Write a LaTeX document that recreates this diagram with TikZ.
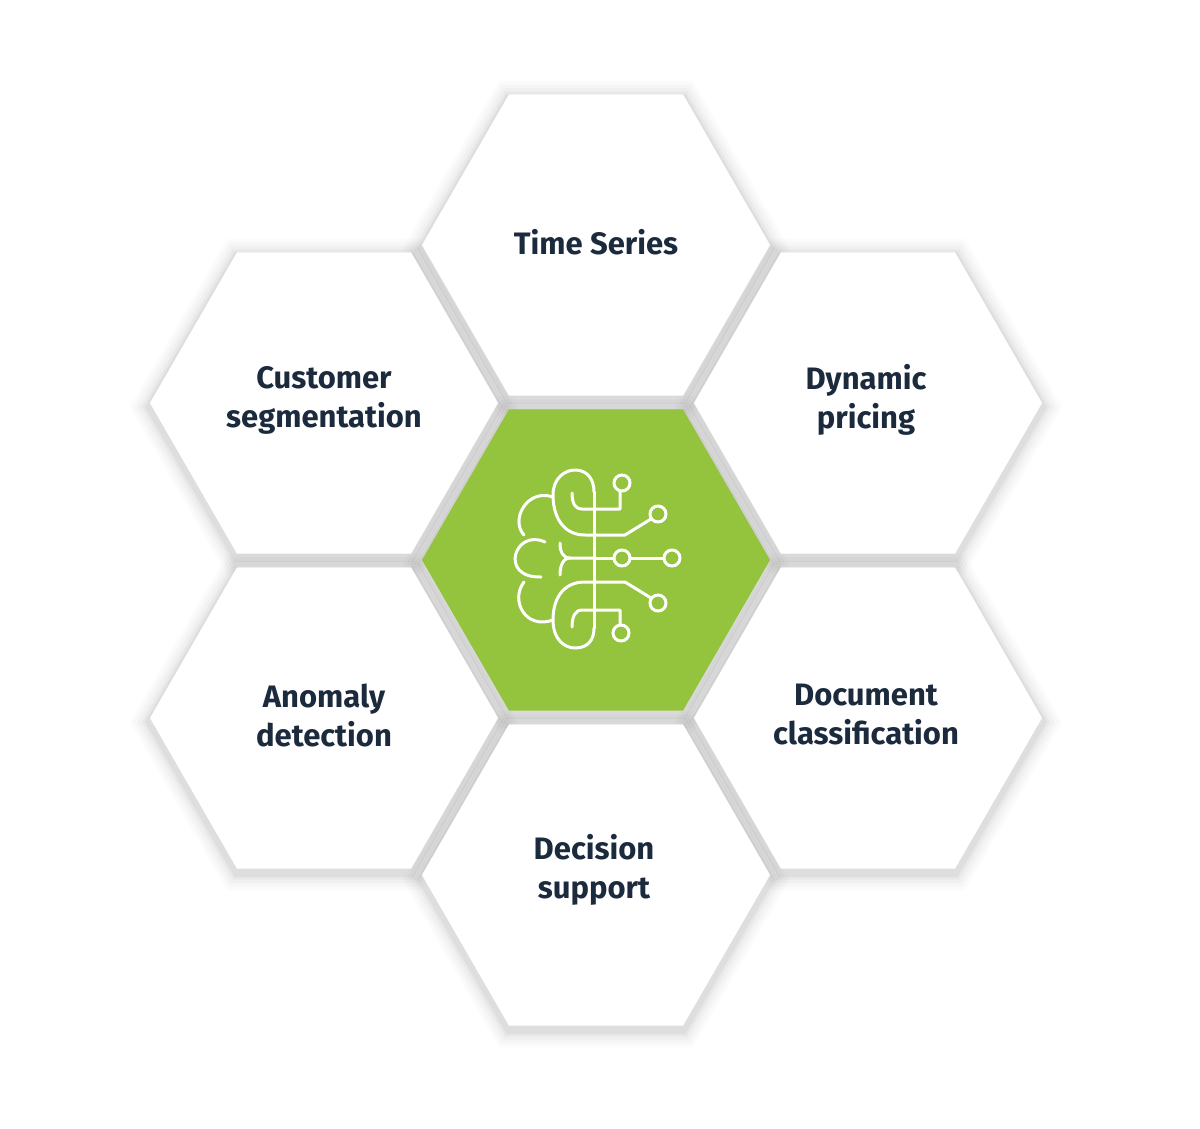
\documentclass[tikz,border=0pt]{standalone}
\usepackage{fontspec}
\setmainfont{Fira Sans}
\definecolor{txt}{HTML}{1C2A3E}
\definecolor{grn}{HTML}{94C33D}
\begin{document}
\begin{tikzpicture}[x=1pt,y=-1pt,
  lbl/.style={font=\fontsize{31}{39}\selectfont\bfseries, text=txt, align=center},
  ic/.style={draw=white, line width=3pt, line cap=round, line join=round},
  dot/.style={draw=white, line width=3pt, fill=grn}]
\useasboundingbox (0,0) rectangle (1200,1128);
\fill[white] (0,0) rectangle (1200,1128);
\def\hex#1#2#3{ (#1+#3,#2) -- (#1+#3/2,#2+0.866*#3) -- (#1-#3/2,#2+0.866*#3) -- (#1-#3,#2) -- (#1-#3/2,#2-0.866*#3) -- (#1+#3/2,#2-0.866*#3) -- cycle }
\foreach \cx/\cy in {596/560,596/245,596/875,324/403,868/403,324/718,868/718}{
  \foreach \r/\o in {194/0.015,190/0.02,186/0.025,182/0.03,179/0.04}{
    \fill[black,opacity=\o] \hex{\cx}{\cy+4}{\r};
  }
}
\foreach \cx/\cy in {596/245,596/875,324/403,868/403,324/718,868/718}{
  \fill[white] \hex{\cx}{\cy}{174};
}
\fill[grn] \hex{596}{560}{174};
\node[lbl] (ts) at (596,242) {Time Series};
\node[lbl] (cs) at (324,400) {Customer\\segmentation};
\node[lbl] (dp) at (866,400) {Dynamic\\pricing};
\node[lbl] (ad) at (324,715) {Anomaly\\detection};
\node[lbl] (dc) at (866,715) {Document\\classification};
\node[lbl] (ds) at (594,870) {Decision\\support};
% brain icon
\draw[ic] (594,492) -- (594,628);
\draw[ic] (625,535) -- (585,535) .. controls (562,535) and (553,515) .. (553,495) .. controls (553,478) and (565,470) .. (575,470) .. controls (588,470) and (594,480) .. (594,492);
\draw[ic] (625,582) -- (585,582) .. controls (562,582) and (553,600) .. (553,620) .. controls (553,640) and (565,648) .. (575,648) .. controls (588,648) and (594,640) .. (594,628);
\draw[ic] (572,493) .. controls (572,503) and (575,509) .. (582,509) -- (620,509) -- (620,491);
\draw[ic] (572,627) .. controls (572,617) and (575,610) .. (582,610) -- (620,610) -- (620,625);
\draw[ic] (625,535) -- (651,519);
\draw[ic] (625,582) -- (651,598);
\draw[ic] (594,558) -- (614,558) (630,558) -- (664,558);
\draw[ic] (560,543) .. controls (560,552) and (563,558) .. (570,558) -- (594,558);
\draw[ic] (560,575) .. controls (560,566) and (563,558) .. (570,558);
\draw[ic] (553,497) .. controls (527,488) and (510,520) .. (524,535);
\draw[ic] (545,542) .. controls (515,528) and (498,578) .. (541,577);
\draw[ic] (524,582) .. controls (510,600) and (525,630) .. (553,620);
\draw[dot] (622,483) circle (8);
\draw[dot] (658,514) circle (8);
\draw[dot] (622,558) circle (8);
\draw[dot] (672,558) circle (8);
\draw[dot] (658,603) circle (8);
\draw[dot] (621,633) circle (8);
\end{tikzpicture}
\end{document}
